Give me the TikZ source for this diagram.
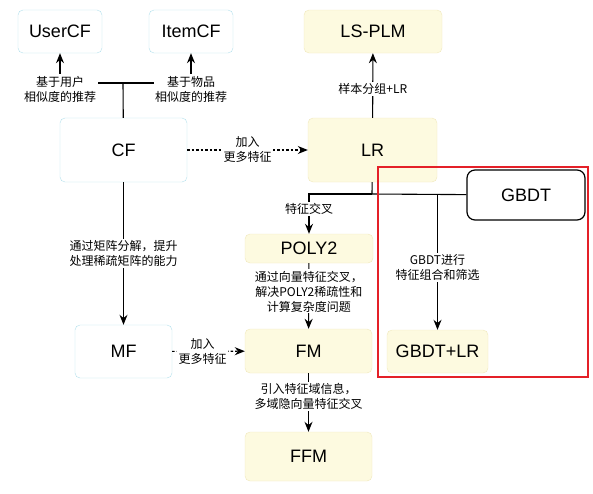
\documentclass[tikz,border=0pt]{standalone}
\usepackage{fontspec}
\setmainfont{Liberation Sans}
\newfontfamily\cjk{Noto Sans CJK SC}
\usetikzlibrary{arrows.meta,positioning}
\definecolor{cfblue}{RGB}{178,224,236}
\definecolor{lrfill}{RGB}{253,250,224}
\definecolor{lrline}{RGB}{240,232,188}
\definecolor{boxred}{RGB}{228,32,40}
\tikzset{
	bluebox/.style={draw=cfblue,fill=white,rounded corners=5pt,inner sep=0pt,font=\fontsize{18}{20}\selectfont},
	yelbox/.style={draw=lrline,fill=lrfill,rounded corners=5pt,inner sep=0pt,font=\fontsize{18}{20}\selectfont},
	treebox/.style={draw=black,line width=1.2pt,fill=white,rounded corners=8pt,inner sep=0pt,font=\fontsize{18}{20}\selectfont},
	lbl/.style={fill=white,align=center,inner sep=1.5pt,font=\cjk\fontsize{12}{15}\selectfont},
	ln/.style={line width=1.1pt},
	arr/.style={line width=1.1pt,-{Stealth[length=10pt,width=8pt]}},
	dotarr/.style={line width=1.1pt,dash pattern=on 2.5pt off 2pt,-{Stealth[length=10pt,width=8pt]}}
}
\begin{document}
\begin{tikzpicture}[x=1pt,y=-1pt]
	\useasboundingbox (0,0) rectangle (593,493);
	\node[bluebox,minimum width=84,minimum height=43] (user) at (60,31.5) {UserCF};
	\node[bluebox,minimum width=84,minimum height=43] (item) at (191,31.5) {ItemCF};
	\node[bluebox,minimum width=127,minimum height=64] (cf) at (123.5,150) {CF};
	\node[bluebox,minimum width=97,minimum height=53] (mf) at (123.5,351.5) {MF};
	\node[yelbox,minimum width=138,minimum height=43] (lsplm) at (373,31.5) {LS-PLM};
	\node[yelbox,minimum width=129,minimum height=64] (lr) at (372.5,150) {LR};
	\node[yelbox,minimum width=128,minimum height=29] (poly) at (309,248.5) {POLY2};
	\node[yelbox,minimum width=127,minimum height=44] (fm) at (308.5,351) {FM};
	\node[yelbox,minimum width=127,minimum height=49] (ffm) at (308.5,456.5) {FFM};
	\node[yelbox,minimum width=101,minimum height=43] (gbdtlr) at (437.5,351.5) {GBDT+LR};
	\node[treebox,minimum width=118,minimum height=50] (gbdt) at (526,195) {GBDT};
	\coordinate (cfbus) at (123,83);
	\coordinate (lrbus) at (372,194);
	\coordinate (gbdtbus) at (437.5,194);
	\draw[ln] (cf) -- (cfbus);
	\draw[arr] (cfbus) -| (user);
	\draw[arr] (cfbus) -| (item);
	\node[lbl] (userlbl) at (60,89) {基于用户\\相似度的推荐};
	\node[lbl] (itemlbl) at (191,89) {基于物品\\相似度的推荐};
	\draw[dotarr] (cf) -- node[lbl] {加入\\更多特征} (lr);
	\draw[arr] (cf) -- node[lbl] {通过矩阵分解，提升\\处理稀疏矩阵的能力} (mf);
	\draw[dotarr] (mf) -- node[lbl,pos=0.42] {加入\\更多特征} (fm);
	\draw[arr] (lr) -- node[lbl,pos=0.45] {样本分组+LR} (lsplm);
	\draw[ln] (lr) -- (lrbus);
	\draw[ln] (lrbus) -- (gbdt);
	\draw[arr] (lrbus) -| (poly);
	\node[lbl] (polylbl) at (309,209) {特征交叉};
	\draw[arr] (gbdtbus) -- node[lbl,pos=0.54] {GBDT进行\\特征组合和筛选} (gbdtlr);
	\draw[arr] (poly) -- node[lbl,pos=0.43] {通过向量特征交叉，\\解决POLY2稀疏性和\\计算复杂度问题} (fm);
	\draw[arr] (fm) -- node[lbl,pos=0.4] {引入特征域信息，\\多域隐向量特征交叉} (ffm);
	\draw[boxred,line width=2.5pt] (378,167) rectangle (588,377);
\end{tikzpicture}
\end{document}
